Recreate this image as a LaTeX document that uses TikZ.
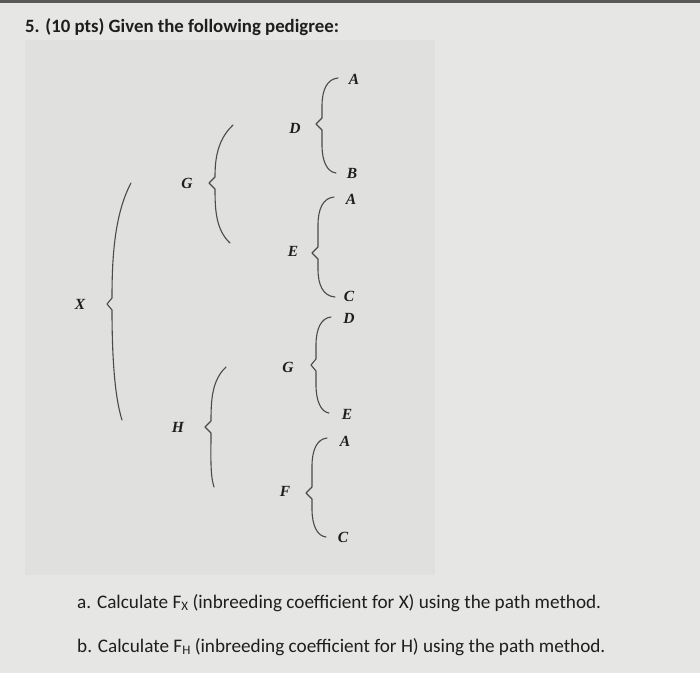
\documentclass[tikz,border=0pt]{standalone}
\usepackage{fontspec}
\setmainfont{Carlito}
\newfontfamily\pedfont{Liberation Serif}
\definecolor{bgcol}{HTML}{E6E6E4}
\definecolor{panelcol}{HTML}{E0E0DE}
\definecolor{inkcol}{HTML}{4A4A4A}
\definecolor{txtcol}{HTML}{1E1E1E}
\tikzset{
  lbl/.style={font=\pedfont\fontsize{15.5}{15.5}\selectfont\bfseries\itshape, text=txtcol, inner sep=0pt},
  brc/.style={draw=inkcol, line width=1.1pt, line cap=round, line join=round},
  txt/.style={font=\fontsize{19.2}{22}\selectfont, text=txtcol, anchor=base west, inner sep=0pt},
}
% brace: top (x,y), arm x, tip (x,y), bottom (x,y)
\newcommand\pbrace[7]{%
  \draw[brc] (#1,#2) .. controls ({#3+5},{#2+1}) and (#3,{#2+12}) .. (#3,{#2+28})
    -- (#3,{#5-6}) -- (#4,#5) -- (#3,{#5+6})
    -- (#3,{#7-28})
    .. controls (#3,{#7-12}) and ({#3+5},{#7-1}) .. (#6,#7);}
\begin{document}
\begin{tikzpicture}[x=1pt,y=-1pt]
\useasboundingbox (0,0) rectangle (700,673);
\fill[bgcol] (0,0) rectangle (700,673);
\fill[panelcol] (25,40) rectangle (435,575);
\fill[black!65] (0,0) rectangle (700,3);

\node[txt, font=\fontsize{18.8}{22}\selectfont\bfseries] (title) at (25,32) {5. (10 pts) Given the following pedigree:};

% labels
\node[lbl] (X) at (80,304) {X};
\node[lbl] (G1) at (187,183) {G};
\node[lbl] (H) at (178,427) {H};
\node[lbl] (D1) at (295,128) {D};
\node[lbl] (E1) at (293,251) {E};
\node[lbl] (G2) at (288,367) {G};
\node[lbl] (F) at (285,491) {F};
\node[lbl] (A1) at (354,79) {A};
\node[lbl] (B) at (352,173) {B};
\node[lbl] (A2) at (351,199) {A};
\node[lbl] (C1) at (349,296) {C};
\node[lbl] (D2) at (349,318) {D};
\node[lbl] (E2) at (347,414) {E};
\node[lbl] (A3) at (345,441) {A};
\node[lbl] (C2) at (343,537) {C};

% X brace (large)
\draw[brc] (131,183) .. controls (114,215) and (112,260) .. (112,298)
  -- (107,304) -- (112,310) .. controls (112,350) and (114,395) .. (122,420);
% G and H braces
\draw[brc] (233,125) .. controls (217,140) and (215,160) .. (215,177)
  -- (209,183) -- (215,189) .. controls (215,210) and (216,230) .. (230,243);
\draw[brc] (226,367) .. controls (212,380) and (211,400) .. (211,421)
  -- (205,427) -- (211,433) .. controls (211,455) and (210,475) .. (214,487);
% right column braces
\pbrace{338}{78}{322}{316}{124}{336}{173}
\pbrace{334}{197}{318}{312}{253}{335}{297}
\pbrace{331}{317}{316}{311}{365}{329}{413}
\pbrace{327}{438}{312}{306}{493}{326}{537}

\node[txt] (qa) at (77,608) {a. Calculate F{\fontsize{13}{13}\selectfont\raisebox{-2.5pt}{X}} (inbreeding coefficient for X) using the path method.};
\node[txt] (qb) at (77,652) {b. Calculate F{\fontsize{13}{13}\selectfont\raisebox{-2.5pt}{H}} (inbreeding coefficient for H) using the path method.};
\end{tikzpicture}
\end{document}
